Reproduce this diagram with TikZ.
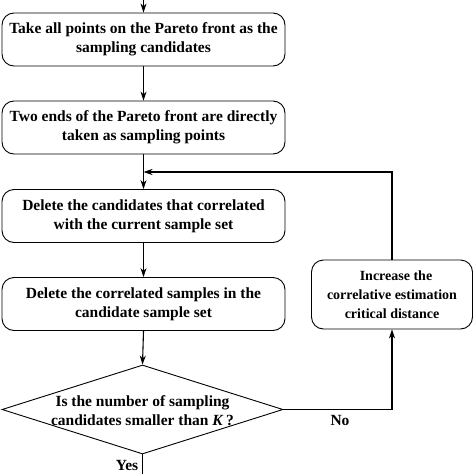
\documentclass[tikz,border=0pt]{standalone}
\usepackage{fontspec}
\setmainfont{Liberation Serif}
\usetikzlibrary{shapes.geometric,arrows.meta}
\begin{document}
\begin{tikzpicture}[x=1pt,y=-1pt,
  every node/.style={font=\bfseries\fontsize{15.5pt}{19pt}\selectfont, align=center},
  small/.style={font=\bfseries\fontsize{14pt}{19pt}\selectfont},
  box/.style={draw, line width=0.9pt, rounded corners=12pt, inner sep=0pt},
  mainbox/.style={box, minimum width=283pt, minimum height=53pt},
  flow/.style={line width=1.1pt, -{Stealth[length=9pt,width=6pt]}},
  plain/.style={line width=1.1pt}]
\useasboundingbox (0,0) rectangle (474,474);
\coordinate (top) at (143.5,0);
\node[mainbox] (b1) at (143.5,39.5) {Take all points on the Pareto front as the\\sampling candidates};
\node[mainbox] (b2) at (143.5,127.5) {Two ends of the Pareto front are directly\\taken as sampling points};
\node[mainbox] (b3) at (143.5,216) {Delete the candidates that correlated\\with the current sample set};
\node[mainbox] (b4) at (143.5,304) {Delete the correlated samples in the\\candidate sample set};
\node[draw, line width=0.9pt, diamond, inner sep=0pt, minimum width=281pt, minimum height=89pt] (d) at (142.5,409.5) {};
\node (dtext) at ([yshift=-1pt]d.center) {Is the number of sampling\\candidates smaller than \textit{K}\,?};
\node[box, small, minimum width=161pt, minimum height=69pt] (b5) at (392,294.5) {\hspace*{8pt}Increase the\\correlative estimation\\critical distance};
\coordinate (join) at (143.5,172);
\coordinate (bot) at (142.5,480);
\node (no) at (340,420) {No};
\node[anchor=south] (yes) at (127,474) {Yes};
\draw[flow] (top) -- (b1.north);
\draw[flow] (b1.south) -- (b2.north);
\draw[plain] (b2.south) -- (join);
\draw[flow] (join) -- (b3.north);
\draw[flow] (b3.south) -- (b4.north);
\draw[flow] (b4.south) -- (d.north);
\draw[flow] (d.east) -| (b5.south);
\draw[flow] (b5.north) |- (join);
\draw[plain] (d.south) -- (bot);
\end{tikzpicture}
\end{document}
